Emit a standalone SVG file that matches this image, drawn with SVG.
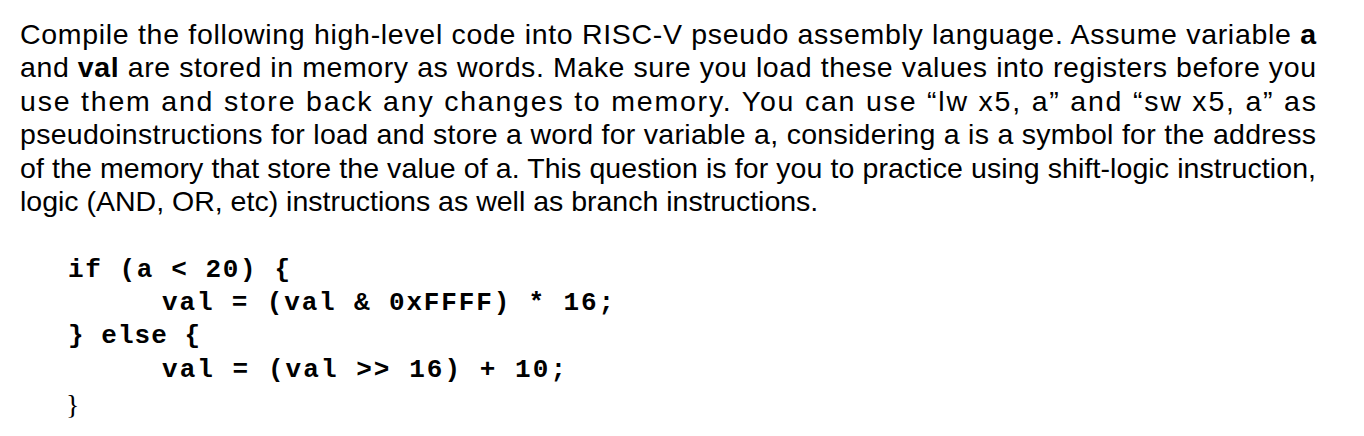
<svg xmlns="http://www.w3.org/2000/svg" width="1364" height="436" viewBox="0 0 1364 436">
<style>
.p{font-family:"Liberation Sans",Arial,sans-serif;font-size:28.5px;fill:#000}
.c{font-family:"Liberation Mono","Courier New",monospace;font-size:26px;font-weight:bold;fill:#000}
.b{font-weight:bold}
</style>
<rect width="1364" height="436" fill="#fff"/>
<text class="p" x="20" y="44" textLength="1296" lengthAdjust="spacing">Compile the following high-level code into RISC-V pseudo assembly language.  Assume variable <tspan class="b">a</tspan></text>
<text class="p" x="20" y="77" textLength="1296" lengthAdjust="spacing">and <tspan class="b">val</tspan> are stored in memory as words.  Make sure you load these values into registers before you</text>
<text class="p" x="20" y="111" textLength="1296" lengthAdjust="spacing">use them and store back any changes to memory.  You can use “lw x5, a” and “sw x5, a” as</text>
<text class="p" x="20" y="144" textLength="1296" lengthAdjust="spacing">pseudoinstructions for load and store a word for variable a, considering a is a symbol for the address</text>
<text class="p" x="20" y="178" textLength="1296" lengthAdjust="spacing">of the memory that store the value of a. This question is for you to practice using shift-logic instruction,</text>
<text class="p" x="20" y="211">logic (AND, OR, etc) instructions as well as branch instructions.</text>
<text class="c" x="68" y="277" textLength="222" lengthAdjust="spacing">if (a &lt; 20) {</text>
<text class="c" x="162" y="310" textLength="452" lengthAdjust="spacing">val = (val &amp; 0xFFFF) * 16;</text>
<text class="c" x="68" y="343" textLength="132" lengthAdjust="spacing">} else {</text>
<text class="c" x="162" y="377" textLength="404" lengthAdjust="spacing">val = (val &gt;&gt; 16) + 10;</text>
<text x="66" y="414" style="font-family:'Liberation Serif',serif;font-size:28px">}</text>
</svg>
